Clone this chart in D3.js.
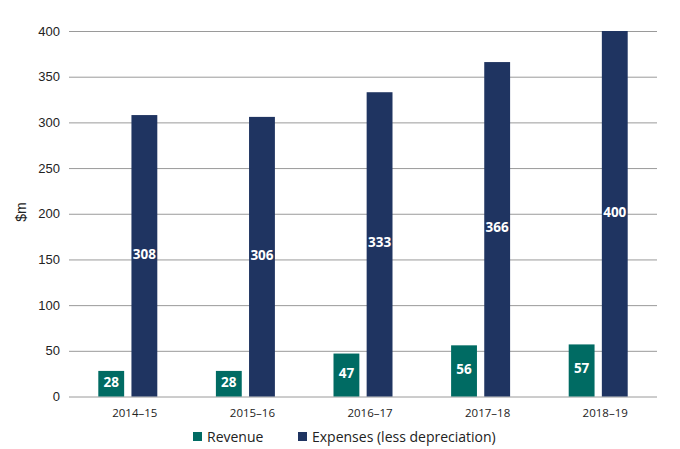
<!DOCTYPE html>
<html>
<head>
<meta charset="utf-8">
<script src="https://cdn.jsdelivr.net/npm/d3@7"></script>
<style>
  body { margin: 0; background: #fff; }
  #chart { width: 680px; height: 449px; }
  .tick text { fill: #222; }
</style>
</head>
<body>
<div id="chart"></div>
<script>
var years = ["2014–15", "2015–16", "2016–17", "2017–18", "2018–19"];
var revenue = [28, 28, 47, 56, 57];
var expenses = [308, 306, 333, 366, 400];
var seriesNames = ["Revenue", "Expenses (less depreciation)"];
var seriesColors = ["#006b63", "#1f3461"];
var yTicks = [0, 50, 100, 150, 200, 250, 300, 350, 400];

var width = 680, height = 449;
var margin = {top: 31, left: 69, right: 23, bottom: 52};

var svg = d3.select("#chart")
    .append("svg")
    .attr("width", width)
    .attr("height", height);

var data = years.map(function(y, i) {
    return {year: y, values: [revenue[i], expenses[i]]};
});

var xScale = d3.scaleBand()
    .domain(years)
    .range([margin.left, width - margin.right])
    .padding(0);

var subScale = d3.scaleBand()
    .domain([0, 1])
    .range([0, 59])
    .paddingInner(0.22);

var yScale = d3.scaleLinear()
    .domain([0, 400])
    .range([height - margin.bottom - 0.5, margin.top]);

// gridlines
var yAxis = svg.append("g")
    .attr("transform", `translate(${margin.left},0)`)
    .call(d3.axisLeft(yScale).tickValues(yTicks).tickSize(-(width - margin.left - margin.right)).tickPadding(9));
yAxis.select(".domain").remove();
yAxis.selectAll(".tick line").attr("stroke", "#9a9a9a").attr("stroke-width", 1);
yAxis.selectAll(".tick text")
    .style("font-family", "Liberation Sans, Arial, sans-serif")
    .style("font-size", "13px");

var xAxis = svg.append("g")
    .attr("transform", `translate(0,${height - margin.bottom})`)
    .call(d3.axisBottom(xScale).tickSize(0).tickPadding(12));
xAxis.select(".domain").remove();
xAxis.selectAll(".tick text")
    .attr("dx", 7)
    .style("font-family", "Open Sans, sans-serif")
    .style("font-size", "11.5px");

svg.append("text")
    .attr("transform", "rotate(-90)")
    .attr("x", -212)
    .attr("y", 26)
    .attr("text-anchor", "middle")
    .style("font-family", "Liberation Sans, Arial, sans-serif")
    .style("font-size", "14px")
    .style("fill", "#222")
    .text("$m");

var groups = svg.selectAll(".group")
    .data(data)
    .enter()
    .append("g")
    .attr("class", "group")
    .attr("transform", function(d) {
        return `translate(${xScale(d.year) + xScale.bandwidth() / 2 - 29.5},0)`;
    });

var bars = groups.selectAll("rect")
    .data(function(d) { return d.values; })
    .enter();

bars.append("rect")
    .attr("x", function(d, i) { return subScale(i); })
    .attr("y", function(d) { return yScale(d); })
    .attr("width", subScale.bandwidth())
    .attr("height", function(d) { return yScale(0) - yScale(d); })
    .attr("fill", function(d, i) { return seriesColors[i]; });

// value labels, sat a little above the bar middle
bars.append("text")
    .attr("x", function(d, i) { return subScale(i) + subScale.bandwidth() / 2; })
    .attr("y", function(d) { return (yScale(d) + yScale(0)) / 2 - 2; })
    .attr("text-anchor", "middle")
    .attr("dy", "0.36em")
    .style("font-family", "Open Sans, sans-serif")
    .style("font-weight", "bold")
    .style("font-size", "13.5px")
    .style("fill", "#fff")
    .text(function(d) { return d; });

// legend
var legendX = [193, 298];
var legend = svg.selectAll(".legend")
    .data(seriesNames)
    .enter()
    .append("g")
    .attr("class", "legend")
    .attr("transform", function(d, i) { return `translate(${legendX[i]},432)`; });

legend.append("rect")
    .attr("width", 9)
    .attr("height", 9)
    .attr("fill", function(d, i) { return seriesColors[i]; });

legend.append("text")
    .attr("x", 14)
    .attr("y", 4.5)
    .attr("dy", "0.36em")
    .style("font-family", "Open Sans, sans-serif")
    .style("font-size", "14px")
    .style("fill", "#222")
    .text(function(d) { return d; });
</script>
</body>
</html>
